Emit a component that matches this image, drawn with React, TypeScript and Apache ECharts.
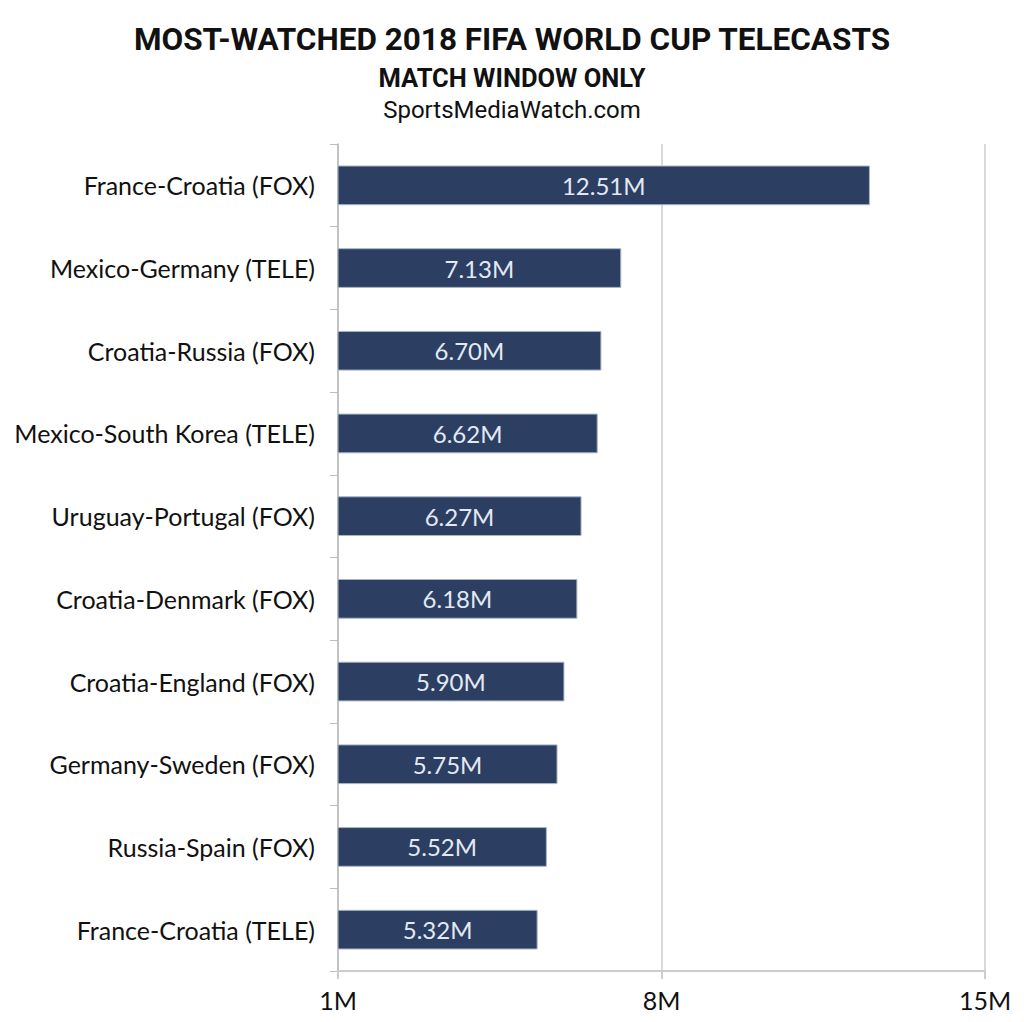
import React, { useEffect, useRef } from "react";
import * as echarts from "echarts";

const categories = [
  "France-Croatia (FOX)",
  "Mexico-Germany (TELE)",
  "Croatia-Russia (FOX)",
  "Mexico-South Korea (TELE)",
  "Uruguay-Portugal (FOX)",
  "Croatia-Denmark (FOX)",
  "Croatia-England (FOX)",
  "Germany-Sweden (FOX)",
  "Russia-Spain (FOX)",
  "France-Croatia (TELE)",
];
const viewers = [12.51, 7.13, 6.7, 6.62, 6.27, 6.18, 5.9, 5.75, 5.52, 5.32];
const axisMin = 1;
const axisMax = 15;
const axisInterval = 7;

const titleFont = "Roboto, 'Noto Sans', sans-serif";

export default function App() {
  const ref = useRef<HTMLDivElement>(null);
  useEffect(() => {
    if (!ref.current) return;
    const chart = echarts.init(ref.current, null, { renderer: "svg" });
    chart.setOption({
      animation: false,
      backgroundColor: "#ffffff",
      title: [
        {
          text: "MOST-WATCHED 2018 FIFA WORLD CUP TELECASTS",
          left: "center",
          top: 18,
          textStyle: { fontFamily: titleFont, fontWeight: "bold", fontSize: 31.5, color: "#111" },
        },
        {
          text: "MATCH WINDOW ONLY",
          left: "center",
          top: 60,
          textStyle: { fontFamily: titleFont, fontWeight: "bold", fontSize: 25.5, color: "#111" },
        },
        {
          text: "SportsMediaWatch.com",
          left: "center",
          top: 93,
          textStyle: { fontFamily: titleFont, fontWeight: "normal", fontSize: 24, color: "#111" },
        },
      ],
      grid: { left: 338, right: 39, top: 144, bottom: 51, containLabel: false },
      xAxis: {
        type: "value",
        min: axisMin,
        max: axisMax,
        interval: axisInterval,
        axisLine: { show: true, lineStyle: { color: "#cccccc", width: 2 } },
        axisTick: { show: true, length: 8, lineStyle: { color: "#cccccc", width: 2 } },
        splitLine: { show: true, lineStyle: { color: "#cccccc", width: 1.5 } },
        axisLabel: {
          formatter: (v: number) => `${v}M`,
          fontFamily: "Lato, sans-serif",
          fontSize: 25,
          color: "#111",
          margin: 16,
        },
      },
      yAxis: {
        type: "category",
        inverse: true,
        data: categories,
        axisLine: { show: true, lineStyle: { color: "#bbbbbb", width: 1.5 } },
        axisTick: { show: true, length: 8, lineStyle: { color: "#bbbbbb" } },
        axisLabel: {
          fontFamily: "Lato, sans-serif",
          fontSize: 25,
          color: "#111",
          margin: 23,
        },
      },
      series: [
        {
          type: "bar",
          data: viewers,
          barWidth: "48%",
          clip: true,
          itemStyle: { color: "#2c3f63", borderColor: "#a9b4c8", borderWidth: 1 },
          label: {
            show: true,
            position: "inside",
            formatter: (p: any) => `${Number(p.value).toFixed(2)}M`,
            fontFamily: "Lato, sans-serif",
            fontSize: 24,
            color: "#e3e9f3",
          },
        },
      ],
    });
    return () => chart.dispose();
  }, []);
  return (
    <div
      ref={ref}
      style={{ position: "absolute", left: 0, top: 0, width: 1024, height: 1022 }}
    />
  );
}
